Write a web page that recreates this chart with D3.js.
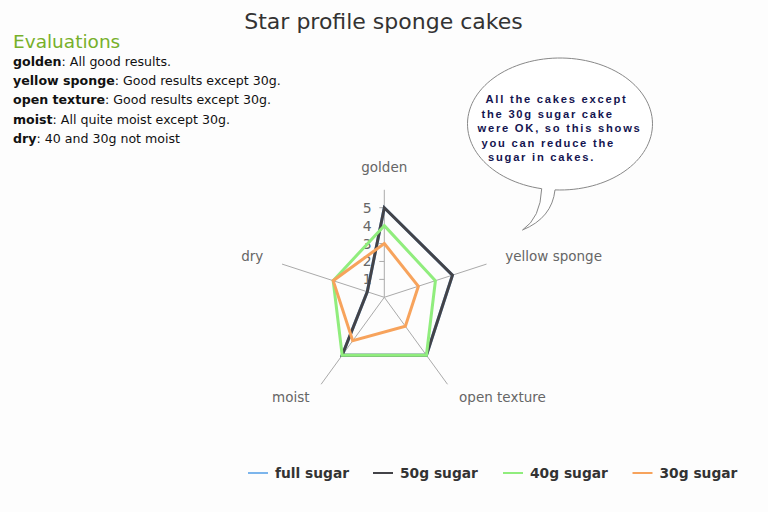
<!DOCTYPE html>
<html>
<head>
<meta charset="utf-8">
<script src="https://cdn.jsdelivr.net/npm/d3@7"></script>
<style>
  body { margin: 0; background: #fdfdfd; }
  svg { font-family: "DejaVu Sans", Verdana, sans-serif; }
</style>
</head>
<body>
<script>
// chart data
var axes = ["golden", "yellow sponge", "open texture", "moist", "dry"];
var seriesNames = ["full sugar", "50g sugar", "40g sugar", "30g sugar"];
var fullSugar = [5, 4, 4, 4, 1];
var sugar50 = [5, 4, 4, 4, 1];
var sugar40 = [4, 3, 4, 4, 3];
var sugar30 = [3, 2, 2, 3, 3];
var tickValues = [1, 2, 3, 4, 5];
var evalKeys = ["golden", "yellow sponge", "open texture", "moist", "dry"];
var evalTexts = [": All good results.", ": Good results except 30g.", ": Good results except 30g.",
                 ": All quite moist except 30g.", ": 40 and 30g not moist"];
var bubbleLines = ["All the cakes except", "the 30g sugar cake", "were OK, so this shows",
                   "you can reduce the", "sugar in cakes."];

var colors = ["#7cb5ec", "#434348", "#90ed7d", "#f7a35c"];
var allSeries = [fullSugar, sugar50, sugar40, sugar30];

var width = 768, height = 512;
var cx = 384.3, cy = 297.3;

var svg = d3.select("body").append("svg")
    .attr("width", width)
    .attr("height", height);

// title
svg.append("text")
    .attr("x", 383.5).attr("y", 29)
    .attr("text-anchor", "middle")
    .attr("fill", "#333")
    .style("font-size", "22px")
    .text("Star profile sponge cakes");

// evaluations block
svg.append("text")
    .attr("x", 13).attr("y", 48)
    .attr("fill", "#77b02a")
    .style("font-size", "18.5px")
    .text("Evaluations");

evalKeys.forEach(function(k, i) {
  var t = svg.append("text")
      .attr("x", 13).attr("y", 66 + i * 19.2)
      .attr("fill", "#111")
      .style("font-size", "12.6px");
  t.append("tspan").style("font-weight", "bold").text(k);
  t.append("tspan").text(evalTexts[i]);
});

// radial scales
var r = d3.scaleLinear().domain([0, 6]).range([0, 107.5]);
var angle = d3.scalePoint().domain(axes).range([0, 2 * Math.PI * 4 / 5]);

function px(a, v) { return cx + r(v) * Math.sin(angle(a)); }
function py(a, v) { return cy - r(v) * Math.cos(angle(a)); }

var g = svg.append("g");

// spokes
g.selectAll(".spoke")
  .data(axes)
  .enter().append("line")
    .attr("x1", cx).attr("y1", cy)
    .attr("x2", d => px(d, 6)).attr("y2", d => py(d, 6))
    .attr("stroke", "#aaa")
    .attr("stroke-width", 1);

// tick marks + labels on the golden axis
g.selectAll(".tick")
  .data(tickValues)
  .enter().append("line")
    .attr("x1", cx - 5).attr("x2", cx)
    .attr("y1", d => cy - r(d)).attr("y2", d => cy - r(d))
    .attr("stroke", "#aaa");

g.selectAll(".ticklabel")
  .data(tickValues)
  .enter().append("text")
    .attr("x", cx - 17).attr("y", d => cy - r(d) + 5)
    .attr("text-anchor", "middle")
    .attr("fill", "#666")
    .style("font-size", "14px")
    .text(d => d);

// axis labels
g.selectAll(".axislabel")
  .data(axes)
  .enter().append("text")
    .attr("x", d => px(d, 7.1))
    .attr("y", (d, i) => py(d, 7.1) + (i == 1 || i == 4 ? 3 : 2))
    .attr("text-anchor", (d, i) => i == 0 ? "middle" : (i < 3 ? "start" : "end"))
    .attr("fill", "#666")
    .style("font-size", "13.5px")
    .text(d => d);

// series
var line = d3.lineRadial()
    .angle((d, i) => angle(axes[i]))
    .radius(d => r(d))
    .curve(d3.curveLinearClosed);

g.selectAll(".series")
  .data(allSeries)
  .enter().append("path")
    .attr("transform", "translate(" + cx + "," + cy + ")")
    .attr("d", line)
    .attr("fill", "none")
    .attr("stroke", (d, i) => colors[i])
    .attr("stroke-width", 3)
    .attr("stroke-linejoin", "miter");

// speech bubble: ellipse with a curved tail
var bx = 560, by = 124, rx = 92.5, ry = 66;
var a1 = Math.acos((541.7 - bx) / rx);   // left tail root (lower half)
var a2 = Math.acos((555 - bx) / rx);     // right tail root
var bubble = d3.path();
bubble.moveTo(555, by + ry * Math.sin(a2));
for (var k = 1; k <= 120; k++) {
  var a = a2 - (2 * Math.PI - (a1 - a2)) * k / 120;
  bubble.lineTo(bx + rx * Math.cos(a), by + ry * Math.sin(a));
}
bubble.quadraticCurveTo(540.5, 218, 522.5, 230);
bubble.quadraticCurveTo(552, 218, 555, by + ry * Math.sin(a2));
svg.append("path")
    .attr("d", bubble.toString())
    .attr("fill", "#fff")
    .attr("stroke", "#888")
    .attr("stroke-width", 1);

var bubbleX = [485.5, 481.5, 477.5, 481.5, 488];
bubbleLines.forEach(function(s, i) {
  svg.append("text")
      .attr("x", bubbleX[i]).attr("y", 103 + i * 14.6)
      .attr("fill", "#141450")
      .style("font-family", "'Liberation Sans', Arial, sans-serif")
      .style("font-weight", "bold")
      .style("font-size", "11.2px")
      .style("letter-spacing", "1.75px")
      .text(s);
});

// legend
var legendX = [248, 373, 503, 632.5];
var leg = svg.selectAll(".legend")
  .data(seriesNames)
  .enter().append("g")
    .attr("transform", (d, i) => "translate(" + legendX[i] + ",473)");
leg.append("line")
    .attr("x1", 0).attr("x2", 20)
    .attr("stroke", (d, i) => colors[i])
    .attr("stroke-width", 2);
leg.append("text")
    .attr("x", 27).attr("y", 5)
    .attr("fill", "#333")
    .style("font-size", "13.8px")
    .style("font-weight", "bold")
    .text(d => d);
</script>
</body>
</html>
